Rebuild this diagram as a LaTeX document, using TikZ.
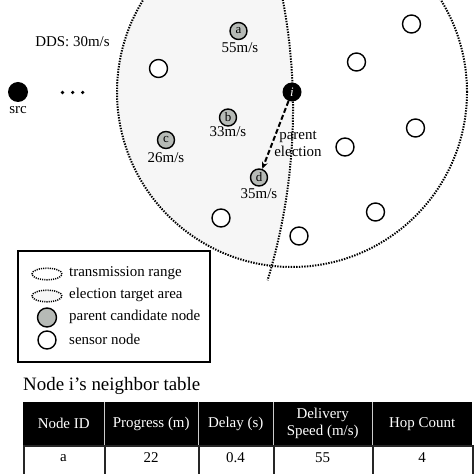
\documentclass[tikz,border=0pt]{standalone}
\usepackage{fontspec}
\setmainfont{Liberation Serif}
\usetikzlibrary{arrows.meta}
\definecolor{candgray}{HTML}{B6BAB6}
\definecolor{areagray}{HTML}{F6F6F6}
\begin{document}
\begin{tikzpicture}[x=1bp,y=-1bp,
  dotline/.style={line width=2bp, dash pattern=on 1.4bp off 1.3bp},
  sensor/.style={circle, draw, line width=1.4bp, fill=white, minimum size=18bp, inner sep=0pt},
  cand/.style={circle, draw, line width=1.4bp, fill=candgray, minimum size=17bp, inner sep=0pt, font=\fontsize{13}{13}\selectfont},
  blk/.style={circle, fill=black, minimum size=19bp, inner sep=0pt},
  lbl/.style={font=\fontsize{15}{17}\selectfont, inner sep=0pt, align=center},
  hdr/.style={fill=black, minimum height=43bp, inner sep=0pt, anchor=north west},
  cell/.style={draw=black!85, line width=1.5bp, minimum height=40bp, inner sep=0pt, anchor=north west},
  txt/.style={font=\fontsize{15}{17}\selectfont, inner sep=0pt, align=center},
  htxt/.style={txt, text=white},
  sep/.style={draw=black!20, line width=1.2bp},
  legdot/.style={line width=1.5bp, dash pattern=on 1.1bp off 1.1bp},
  elect/.style={draw, line width=2bp, dash pattern=on 5bp off 2.5bp, -{Stealth[length=7bp,width=6bp]}}
]
\useasboundingbox (0,0) rectangle (474,474);
\clip (0,0) rectangle (474,474);
% election target area shading
\begin{scope}
  \clip (292,92) circle[radius=175bp];
  \fill[areagray] (-296,109) circle[radius=589bp];
\end{scope}
% transmission range
\draw[dotline] (292,92) circle[radius=175bp];
% election boundary
\draw[dotline] (281.2,-8.4) arc[start angle=11.5, end angle=-16.9, radius=589bp];

% source and dots
\node[blk, minimum size=20bp] (src) at (18,92) {};
\node[lbl] (srclbl) at (18,110) {src};
\fill (62.5,92.5) circle[radius=1.8bp];
\fill (72.7,92.5) circle[radius=1.8bp];
\fill (82.7,92.5) circle[radius=1.8bp];
\node[lbl] (dds) at (72.5,42) {DDS: 30m/s};

% node i
\node[blk, text=white, font=\fontsize{13}{13}\selectfont] (i) at (292,92) {\textit{i}};

% candidates
\node[cand] (a) at (238.5,31) {a};
\node[lbl] (alb) at (240,48) {55m/s};
\node[cand] (b) at (228,117.5) {b};
\node[lbl] (blb) at (228,131.5) {33m/s};
\node[cand] (c) at (166,140) {c};
\node[lbl] (clb) at (166,157.5) {26m/s};
\node[cand] (d) at (259,177.5) {d};
\node[lbl] (dlb) at (259,194) {35m/s};

% sensor nodes
\node[sensor] (s1) at (158.5,68.5) {};
\node[sensor] (s2) at (221,218) {};
\node[sensor] (s3) at (411.5,24) {};
\node[sensor] (s4) at (356.5,62) {};
\node[sensor] (s5) at (415.5,128) {};
\node[sensor] (s6) at (345,147) {};
\node[sensor] (s7) at (375.5,212) {};
\node[sensor] (s8) at (299,236) {};

% parent election arrow
\draw[elect] (i) -- (d);
\node[lbl] (pe) at (298,144) {parent\\election};

% legend
\node[draw, line width=1.5bp, minimum width=192bp, minimum height=111bp, inner sep=0pt] (legend) at (114,306.5) {};
\draw[legdot, fill=white] (47,274) ellipse[x radius=15bp, y radius=5.8bp];
\draw[legdot, fill=areagray] (47,296) ellipse[x radius=15bp, y radius=5.8bp];
\node[cand, minimum size=19bp] (lc) at (47,317.5) {};
\node[sensor, minimum size=18bp] (ls) at (47,340) {};
\node[lbl, anchor=west] (l1) at (69,273) {transmission range};
\node[lbl, anchor=west] (l2) at (69,294.5) {election target area};
\node[lbl, anchor=west] (l3) at (69,317) {parent candidate node};
\node[lbl, anchor=west] (l4) at (69,339.5) {sensor node};

% table title
\node[font=\fontsize{19}{21}\selectfont, inner sep=0pt, anchor=west] (title) at (23,386) {Node i’s neighbor table};

% table header
\node[hdr, minimum width=81bp] (h1) at (23,402) {};
\node[hdr, minimum width=94bp] (h2) at (104,402) {};
\node[hdr, minimum width=75bp] (h3) at (198,402) {};
\node[hdr, minimum width=99bp] (h4) at (273,402) {};
\node[hdr, minimum width=100bp] (h5) at (372,402) {};
\draw[sep] (h1.north east) -- (h1.south east);
\draw[sep] (h2.north east) -- (h2.south east);
\draw[sep] (h3.north east) -- (h3.south east);
\draw[sep] (h4.north east) -- (h4.south east);
\node[htxt] (t1) at (h1.center) {Node ID};
\node[htxt] (t2) at (h2.center) {Progress (m)};
\node[htxt] (t3) at (h3.center) {Delay (s)};
\node[htxt] (t4) at (h4.center) {Delivery\\Speed (m/s)};
\node[htxt] (t5) at (h5.center) {Hop Count};

% table row
\node[cell, minimum width=81bp] (r1) at (23,445) {};
\node[cell, minimum width=94bp] (r2) at (104,445) {};
\node[cell, minimum width=75bp] (r3) at (198,445) {};
\node[cell, minimum width=99bp] (r4) at (273,445) {};
\node[cell, minimum width=100bp] (r5) at (372,445) {};
\node[txt] (v1) at (63.5,458) {a};
\node[txt] (v2) at (151,458) {22};
\node[txt] (v3) at (235.5,458) {0.4};
\node[txt] (v4) at (322.5,458) {55};
\node[txt] (v5) at (422,458) {4};
\end{tikzpicture}
\end{document}
